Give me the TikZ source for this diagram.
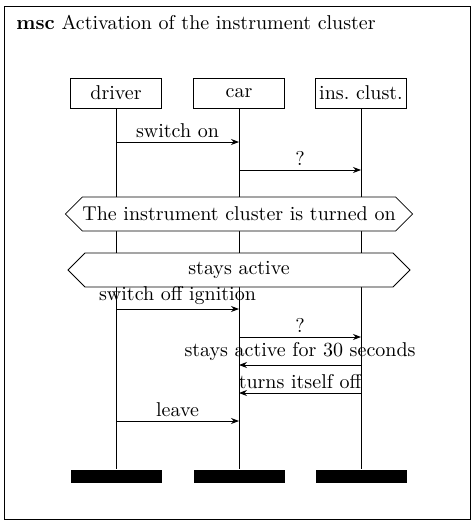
\documentclass[tikz,border=0pt]{standalone}
\usetikzlibrary{shapes.symbols,arrows.meta}
\tikzset{
  instbox/.style={draw,minimum width=45.5pt,minimum height=15pt,inner sep=1pt},
  endbar/.style={fill=black,minimum width=45.5pt,minimum height=6.5pt,inner sep=0pt},
  msg/.style={-{Stealth[length=4pt,width=3pt]}},
  lbl/.style={above,inner sep=2pt},
  cond/.style={draw,fill=white,signal,signal to=east and west,signal pointer angle=90,
    minimum width=171pt,minimum height=17pt,inner xsep=0pt,inner ysep=1pt},
}
\begin{document}
\begin{tikzpicture}[x=0.5pt,y=-0.5pt]
\useasboundingbox (0,0) rectangle (474,520);
\draw (4,6) rectangle (470,519);
\node[anchor=base west,inner sep=0pt] (title) at (16,29) {\textbf{msc} Activation of the instrument cluster};
% instance heads and ends
\node[instbox] (driver) at (116,93) {driver};
\node[instbox] (car) at (239,93) {car};
\node[instbox] (ins) at (361,93) {ins.\ clust.};
\node[endbar] (driverEnd) at (116,476) {};
\node[endbar] (carEnd) at (239,476) {};
\node[endbar] (insEnd) at (361,476) {};
\draw (driver) -- (driverEnd);
\draw (car) -- (carEnd);
\draw (ins) -- (insEnd);
% messages
\draw[msg] (driver |- 0,142) -- node[lbl] {switch on} (car |- 0,142);
\draw[msg] (car |- 0,170) -- node[lbl] {?} (ins |- 0,170);
\node[cond] (turnedOn) at (239,214) {The instrument cluster is turned on};
\node[cond] (active) at (239,270) {stays active};
\draw[msg] (driver |- 0,309) -- node[lbl] {switch off ignition} (car |- 0,309);
\draw[msg] (car |- 0,337) -- node[lbl] {?} (ins |- 0,337);
\draw[msg] (ins |- 0,365) -- node[lbl] {stays active for 30 seconds} (car |- 0,365);
\draw[msg] (ins |- 0,393) -- node[lbl] {turns itself off} (car |- 0,393);
\draw[msg] (driver |- 0,421) -- node[lbl] {leave} (car |- 0,421);
\end{tikzpicture}
\end{document}
